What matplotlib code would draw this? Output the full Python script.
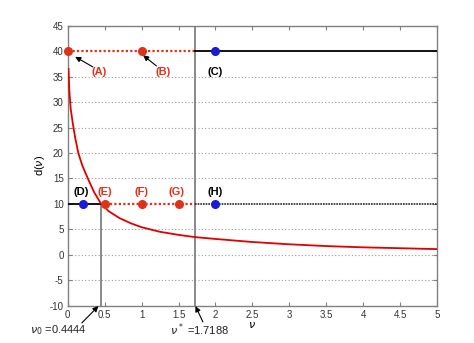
import numpy as np
import matplotlib.pyplot as plt

plt.rcParams['font.family'] = ['Liberation Sans', 'DejaVu Sans']
plt.rcParams['axes.unicode_minus'] = False

# d(nu) curve, read at sample points
nu_curve = [0.01, 0.02, 0.04, 0.068, 0.1, 0.144, 0.2, 0.28, 0.36, 0.447, 0.55, 0.7,
            0.85, 1.0, 1.25, 1.5, 1.72, 2.0, 2.5, 3.0, 3.5, 4.0, 4.5, 5.0]
d_curve = [36.5, 32.4, 28.6, 25.8, 23.0, 19.9, 17.4, 14.7, 12.2, 10.1, 8.6, 7.2,
           6.2, 5.4, 4.5, 3.9, 3.47, 3.1, 2.5, 2.05, 1.7, 1.45, 1.28, 1.1]

nu0 = 0.4444
nu_star = 1.7188
level_hi = 40
level_lo = 10

# marked points
red_x = [0, 1, 0.5, 1, 1.5]
red_y = [40, 40, 10, 10, 10]
blue_x = [2, 0.2, 2]
blue_y = [40, 10, 10]

red = '#e0321a'
blue = '#1a1ad8'
gray = '#808080'

fig = plt.figure(figsize=(4.74, 3.43), dpi=100)
ax = fig.add_axes([0.143, 0.109, 0.779, 0.816])

ax.set_xlim(0, 5)
ax.set_ylim(-10, 45)
ax.set_xticks(np.arange(0, 5.01, 0.5))
ax.set_xticklabels(['0', '0.5', '1', '1.5', '2', '2.5', '3', '3.5', '4', '4.5', '5'])
ax.set_yticks(np.arange(-10, 46, 5))
for yv in np.arange(-5, 45, 5):
    if yv in (level_hi, level_lo):
        continue
    ax.axhline(yv, color='#9a9a9a', lw=0.8, ls=(0, (1, 2)), zorder=0)

ax.tick_params(direction='in', top=True, right=True, length=3, width=0.8,
               color=gray, labelsize=7, pad=3, labelcolor='#333333')
for s in ax.spines.values():
    s.set_color(gray)
    s.set_linewidth(1.0)

# vertical markers at nu0 and nu*
ax.plot([nu0, nu0], [-10, level_lo], color=gray, lw=1.3, zorder=2)
ax.axvline(nu_star, color=gray, lw=1.3, zorder=2)

# level 40
ax.plot([0, nu_star], [level_hi, level_hi], color=red, lw=1.6, ls=(0, (1, 1)), zorder=3)
ax.plot([nu_star, 5], [level_hi, level_hi], color='black', lw=1.3, zorder=3)
# level 10
ax.plot([0, nu0], [level_lo, level_lo], color='black', lw=1.3, zorder=3)
ax.plot([nu0, nu_star], [level_lo, level_lo], color=red, lw=1.6, ls=(0, (1, 1)), zorder=3)
ax.plot([nu_star, 5], [level_lo, level_lo], color='#222222', lw=1.2, ls=(0, (1, 0.6)), zorder=3)

ax.plot(nu_curve, d_curve, color='#e00000', lw=1.3, zorder=4)

ax.plot(red_x, red_y, 'o', color=red, ms=5.5, zorder=5, clip_on=False)
ax.plot(blue_x, blue_y, 'o', color=blue, ms=5.5, zorder=5, clip_on=False)

lab_kw = dict(fontsize=8, fontweight='bold', ha='center', va='center')
arr_kw = dict(arrowstyle='-|>', color='black', lw=0.8, mutation_scale=8, shrinkA=0, shrinkB=0)

ax.text(0.42, 36, '(A)', color=red, **lab_kw)
ax.annotate('', xy=(0.1, 38.9), xytext=(0.34, 36.9), arrowprops=arr_kw)
ax.text(1.29, 36, '(B)', color=red, **lab_kw)
ax.annotate('', xy=(1.02, 39.2), xytext=(1.2, 37.1), arrowprops=arr_kw)
ax.text(1.99, 36, '(C)', color='black', **lab_kw)
ax.text(0.18, 12.3, '(D)', color='black', **lab_kw)
ax.text(0.5, 12.3, '(E)', color=red, **lab_kw)
ax.text(1.0, 12.3, '(F)', color=red, **lab_kw)
ax.text(1.47, 12.3, '(G)', color=red, **lab_kw)
ax.text(2.0, 12.3, '(H)', color='black', **lab_kw)

ax.annotate('', xy=(nu0 - 0.03, -10.1), xytext=(0.19, -13.4),
            arrowprops=arr_kw, annotation_clip=False)
ax.text(-0.13, -14.8, r'$\nu_0$ =0.4444', fontsize=8, ha='center', va='center', color='#222222')
ax.annotate('', xy=(nu_star + 0.01, -10.1), xytext=(1.83, -13.2),
            arrowprops=arr_kw, annotation_clip=False)
ax.text(1.79, -14.8, r'$\nu^*$ =1.7188', fontsize=8, ha='center', va='center', color='#222222')

ax.set_xlabel(r'$\nu$', fontsize=8, labelpad=0)
ax.set_ylabel(r'd($\nu$)', fontsize=8, labelpad=2)

fig.savefig('out.png', dpi=100)
